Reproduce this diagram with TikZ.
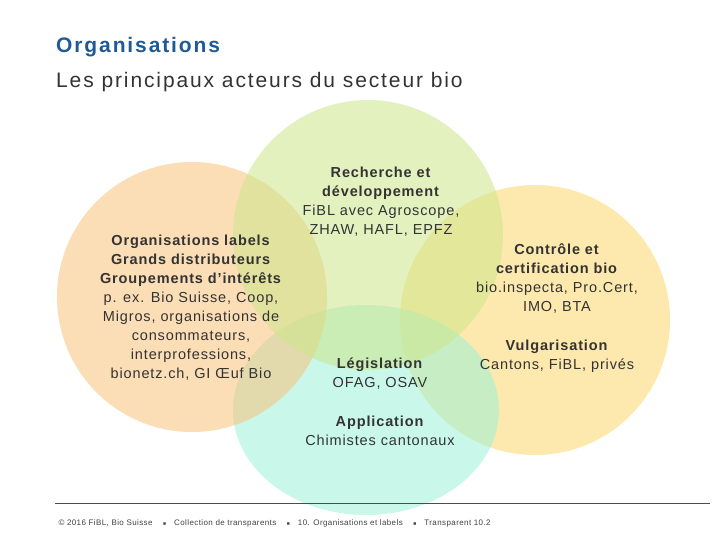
\documentclass[tikz,border=0pt]{standalone}
\usepackage{fontspec}
\setmainfont{Liberation Sans}
\newfontfamily\lblfont[LetterSpace=6]{Liberation Sans}
\newfontfamily\ttlfont[LetterSpace=9]{Liberation Sans}
\newfontfamily\ftfont[LetterSpace=5]{Liberation Sans}
\usetikzlibrary{shapes.geometric}
\begin{document}
\begin{tikzpicture}[x=1pt,y=-1pt,
  lbl/.style={align=center,font=\lblfont\fontsize{14.5}{19}\selectfont,text=black!80,inner sep=0pt},
  circ/.style={fill opacity=0.55,draw=none},
  foot/.style={font=\ftfont\fontsize{8}{9}\selectfont,text=black!75,anchor=west}]
\useasboundingbox (0,0) rectangle (720,540);
\definecolor{cor}{HTML}{F7C27A}
\definecolor{cgr}{HTML}{CCE68A}
\definecolor{cye}{HTML}{FCD66A}
\definecolor{ccy}{HTML}{9CF2D8}
\definecolor{ttl}{HTML}{1F5A96}
\fill[circ,cye] (535,320) circle (135);
\fill[circ,ccy] (366,410) ellipse (133 and 105);
\fill[circ,cor] (192,297) circle (135);
\fill[circ,cgr] (368,235) circle (135);
\node[anchor=west,font=\ttlfont\bfseries\fontsize{21}{24}\selectfont,text=ttl,inner sep=0pt] (t) at (56,47) {Organisations};
\node[anchor=west,font=\ttlfont\fontsize{21}{24}\selectfont,text=black!80,inner sep=0pt] (st) at (56,82) {Les principaux acteurs du secteur bio};
\node[lbl] (a) at (191,308) {\textbf{Organisations labels}\\\textbf{Grands distributeurs}\\\textbf{Groupements d’intérêts}\\p. ex. Bio Suisse, Coop,\\Migros, organisations de\\consommateurs,\\interprofessions,\\bionetz.ch, GI Œuf Bio};
\node[lbl] (b) at (381,202) {\textbf{Recherche et}\\\textbf{développement}\\FiBL avec Agroscope,\\ZHAW, HAFL, EPFZ};
\node[lbl] (c) at (557,279) {\textbf{Contrôle et}\\\textbf{certification bio}\\bio.inspecta, Pro.Cert,\\IMO, BTA};
\node[lbl] (d) at (557,356) {\textbf{Vulgarisation}\\Cantons, FiBL, privés};
\node[lbl] (e) at (380,374) {\textbf{Législation}\\OFAG, OSAV};
\node[lbl] (f) at (380,431) {\textbf{Application}\\Chimistes cantonaux};
\coordinate (l1) at (55,503); \coordinate (l2) at (710,503);
\draw[black!70,line width=0.8pt] (l1) -- (l2);
\node[foot] (g) at (55,523) {© 2016 FiBL, Bio Suisse \quad{\tiny ■}\quad Collection de transparents \quad{\tiny ■}\quad 10. Organisations et labels \quad{\tiny ■}\quad Transparent 10.2};
\end{tikzpicture}
\end{document}
